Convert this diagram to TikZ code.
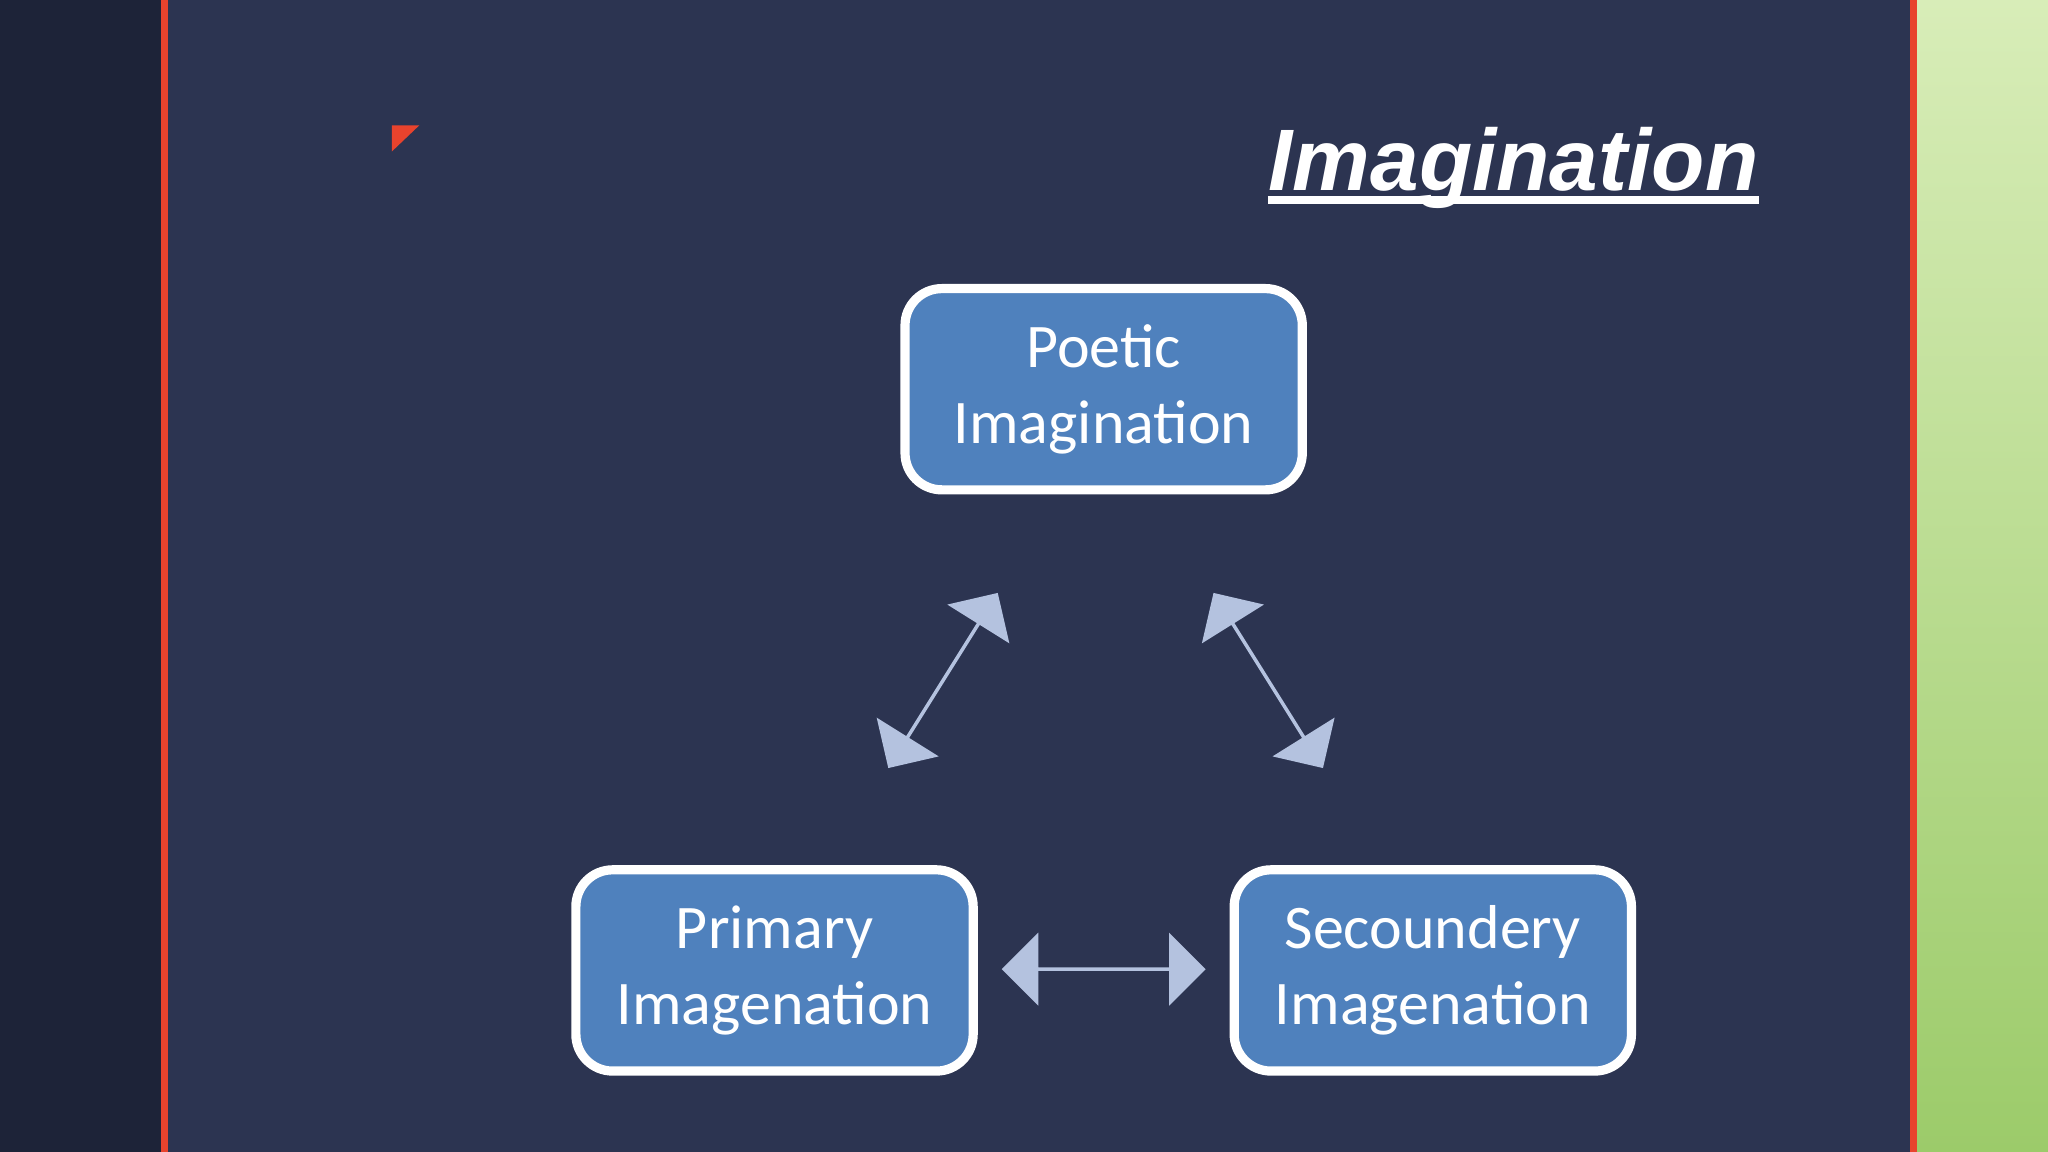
\documentclass[tikz,border=0pt]{standalone}
\usepackage{fontspec}
\setmainfont{Carlito}
\newfontfamily\titlefont{Liberation Sans}
\usetikzlibrary{shapes.arrows}
\definecolor{slidebg}{HTML}{2C3451}
\definecolor{stripbg}{HTML}{1D2338}
\definecolor{boxblue}{HTML}{4F81BD}
\definecolor{arrowblue}{HTML}{B4C2DF}
\definecolor{edgered}{HTML}{E8432D}
\definecolor{greentop}{HTML}{D8EDB8}
\definecolor{greenbot}{HTML}{9CCB6A}
\begin{document}
\begin{tikzpicture}[x=0.01cm,y=-0.01cm,
    box node/.style={rectangle,rounded corners=8pt,draw=white,line width=2pt,fill=boxblue,
        minimum width=3.04cm,minimum height=1.54cm,align=center,text=white,
        font=\fontsize{13.5}{16.5}\selectfont},
    link arrow/.style={double arrow,fill=arrowblue,inner sep=0pt,minimum height=1.58cm,
        minimum width=0.56cm,double arrow head extend=0.14cm}]

    \useasboundingbox (0,0) rectangle (1568,882);
    \fill[stripbg] (0,0) rectangle (126,882);
    \fill[slidebg] (126,0) rectangle (1466,882);
    \shade[top color=greentop,bottom color=greenbot] (1466,0) rectangle (1568,882);
    \draw[edgered,line width=1.5pt] (126,0) -- (126,882);
    \draw[edgered,line width=1.5pt] (1465,0) -- (1465,882);
    \fill[edgered] (300,96) -- (321,96) -- (300,116) -- cycle;

    \node[anchor=base east,text=white,inner sep=0pt,font=\titlefont\fontsize{19}{23}\selectfont\bfseries\itshape]
        (title) at (1347,146) {Imagination};
    \draw[white,line width=1.6pt] ([yshift=-0.07cm]title.base west) -- ([yshift=-0.07cm]title.base east);

    \node[box node] (poetic) at (845,298) {Poetic\\Imagination};
    \node[box node] (primary) at (593,743) {Primary\\Imagenation};
    \node[box node] (second) at (1097,743) {Secoundery\\Imagenation};

    \node[link arrow,rotate=58] (leftlink) at (722,521) {};
    \node[link arrow,rotate=-58] (rightlink) at (971,521) {};
    \node[link arrow,minimum height=1.56cm] (bottomlink) at (845,742) {};
\end{tikzpicture}
\end{document}
